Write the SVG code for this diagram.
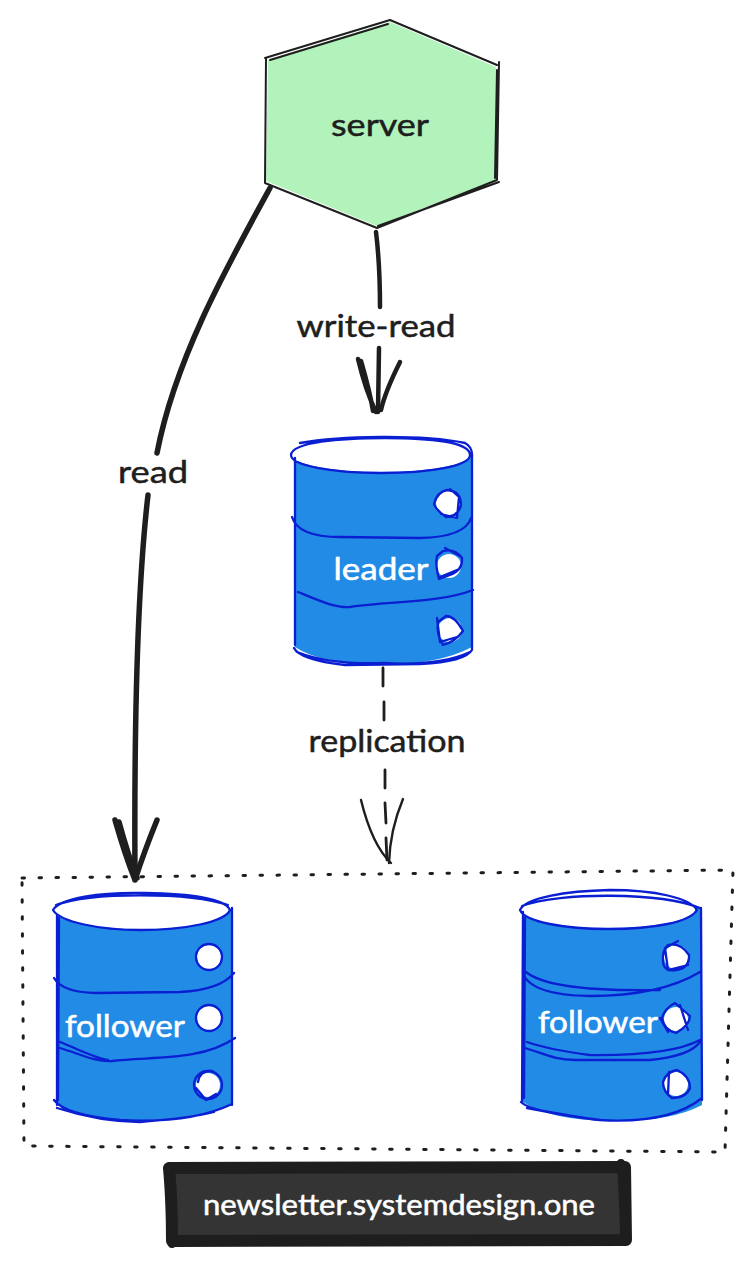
<svg xmlns="http://www.w3.org/2000/svg" width="746" height="1262" viewBox="0 0 746 1262">
<style>
.t{font-family:"Lato","Liberation Sans",sans-serif;fill:#1e1e1e;stroke:#1e1e1e;stroke-width:.5px;font-size:30px}
.w{fill:#fff;stroke:#fff}
.b{fill:#228be6;stroke:none}
.s{fill:none;stroke:#0a1ed2;stroke-width:2.3;stroke-linecap:round;stroke-linejoin:round}
.h{fill:#fff;stroke:none}
.k{fill:none;stroke:#1e1e1e;stroke-linecap:round;stroke-linejoin:round}
.c5{stroke-width:5.5}.c4{stroke-width:4.5}.c3{stroke-width:2.8}.c2{stroke-width:2}
</style>
<rect width="746" height="1262" fill="#fff"/>
<g id="connectors">
<path class="k c5" d="M270 188C225 270 175 360 157 453"/>
<path class="k c5" d="M148 495C137 590 134 720 135 878"/>
<path class="k c5" d="M115 820Q125 855 135 880M157 820Q144 852 135 880M119 822Q128 855 137 878"/>
<path class="k c4" d="M376 232Q380 265 380 307M379 348L378 412"/>
<path class="k c4" d="M358 359Q366 392 376 412M400 362Q385 392 381 410M361 361Q370 392 373 411"/>
<path class="k c3" d="M383 668L383 686M384 702L384 720M385 770L385 788M385 803L386 823M386 838L387 860"/>
<path class="k" d="M361 800Q372 845 391 863M403 799Q390 830 389 863" style="stroke-width:2.4"/>
<path class="k" style="stroke-width:3" stroke-dasharray="2.5 14.5" d="M22 878L733 870L725 1152L24 1146Z"/>
</g>
<g id="server">
<path d="M268 60L390 22L496 67L496 180L377 226L266 181Z" fill="#b2f2bb"/>
<path class="k c2" d="M265 58L390 20L497 65M499 62L497 180L377 228L265 183L266 58M270 60L388 24M378 226L499 182M497 70L495 178"/>
<text class="t" x="380" y="136" text-anchor="middle" textLength="98" lengthAdjust="spacingAndGlyphs">server</text>
</g>
<g id="leader">
<path class="b" d="M295 455L472 455L472 647Q440 664 384 665Q320 664 295 647Z"/>
<ellipse class="h" cx="381" cy="455" rx="89" ry="17"/>
<path class="s" d="M291 455C292 442 340 438 385 438C430 438 470 442 470 455C470 466 430 473 381 473C335 473 291 466 291 455ZM300 443C340 436 420 434 465 443Q473 447 472 458M295 458L295 645M472 455L472 650M292 517Q298 537 340 537L420 538Q465 537 471 518M298 592C320 601 335 608 350 607C390 601 440 603 473 590M294 648Q300 660 345 665L420 664Q465 662 472 650M297 652Q330 665 384 663Q440 666 470 652"/>
<circle class="h" cx="448" cy="503" r="12"/><circle class="h" cx="449" cy="566" r="12"/><circle class="h" cx="450" cy="630" r="12"/>
<path class="s" d="M447 490Q461 491 461 505Q458 517 446 517Q436 510 434 504Q437 492 447 490ZM450 489L459 497L457 518L441 514"/>
<path class="s" d="M443 551Q455 548 462 558Q463 570 450 575L439 579Q435 565 437 556ZM445 548L460 556M440 577L457 570"/>
<path class="s" d="M446 616Q455 616 463 631Q455 642 443 645Q436 635 438 622ZM437 618L440 642L457 637"/>
<text class="t w" x="381" y="580" text-anchor="middle" textLength="95" lengthAdjust="spacingAndGlyphs">leader</text>
</g>
<g id="follower-left">
<path class="b" d="M57 910L232 910L232 1105Q195 1121 140 1120Q85 1120 57 1105Z"/>
<ellipse class="h" cx="142" cy="911" rx="87" ry="18"/>
<path class="s" d="M53 910C60 898 100 892 145 893C190 894 225 898 230 910C225 922 185 930 140 930C100 930 60 922 53 910ZM56 905C90 892 190 892 228 905M57 915L57 1105M59 918L58 1100M232 908L232 1105M54 978Q62 992 95 993L180 992Q220 990 234 973M60 1048C80 1054 95 1062 112 1061C150 1056 200 1062 235 1038M60 1042C80 1050 95 1058 108 1060M54 1100Q65 1115 120 1120Q190 1124 232 1104M57 1108Q100 1122 140 1122Q190 1118 214 1112"/>
<circle class="h" cx="209" cy="957" r="12"/><circle class="h" cx="209" cy="1018" r="12"/><circle class="h" cx="208" cy="1085" r="12"/>
<circle class="s" cx="209" cy="957" r="13"/><circle class="s" cx="209" cy="1018" r="13"/><circle class="s" cx="208" cy="1085" r="14"/>
<path class="s" d="M198 1082Q200 1070 212 1071M196 1088L206 1100L216 1094"/>
<text class="t w" x="125" y="1037" text-anchor="middle" textLength="120" lengthAdjust="spacingAndGlyphs">follower</text>
</g>
<g id="follower-right">
<path class="b" d="M523 908L701 908L702 1105Q670 1122 610 1121Q550 1120 523 1102Z"/>
<ellipse class="h" cx="608" cy="910" rx="87" ry="18"/>
<path class="s" d="M520 910C525 898 565 891 610 890C655 890 690 898 697 910C690 922 655 929 608 929C565 929 525 922 520 910ZM522 906C560 892 660 892 700 908M523 912L522 1102M525 918L524 1098M701 908L702 1100M523 973Q530 995 590 996Q660 996 700 972M526 972Q550 992 660 990M525 1048C545 1054 555 1060 575 1060L650 1060Q690 1056 700 1042M527 1042Q550 1050 590 1055Q670 1056 700 1040M521 1102Q530 1112 600 1120Q670 1124 702 1098M527 1108Q580 1118 600 1120"/>
<circle class="h" cx="676" cy="957" r="12"/><circle class="h" cx="676" cy="1019" r="12"/><circle class="h" cx="676" cy="1084" r="12"/>
<path class="s" d="M668 945Q680 942 689 955Q690 968 676 970Q664 972 663 962Q662 950 668 945ZM678 941L665 948L668 970L688 965"/>
<path class="s" d="M675 1003L690 1016Q690 1025 676 1033Q664 1030 662 1018Q665 1008 675 1003ZM668 1032L660 1018M680 1005L688 1030"/>
<path class="s" d="M677 1070Q690 1076 690 1088Q686 1098 672 1098Q663 1092 663 1082Q666 1072 677 1070ZM669 1072L668 1095"/>
<text class="t w" x="598" y="1033" text-anchor="middle" textLength="120" lengthAdjust="spacingAndGlyphs">follower</text>
</g>
<g id="badge">
<path d="M169 1168L625 1167L626 1240L172 1241Q172 1200 169 1168Z" fill="#343434" stroke="#1e1e1e" stroke-width="12" stroke-linejoin="round"/>
<path d="M621 1163L625 1240M168 1170L172 1244" fill="none" stroke="#1e1e1e" stroke-width="8" stroke-linecap="round"/>
<text class="t w" x="399" y="1215" text-anchor="middle" textLength="392" lengthAdjust="spacingAndGlyphs" style="font-size:28px">newsletter.systemdesign.one</text>
</g>
<g id="labels">
<text class="t" x="376" y="337" text-anchor="middle" textLength="159" lengthAdjust="spacingAndGlyphs">write-read</text>
<text class="t" x="153" y="483" text-anchor="middle" textLength="70" lengthAdjust="spacingAndGlyphs">read</text>
<text class="t" x="387" y="752" text-anchor="middle" textLength="157" lengthAdjust="spacingAndGlyphs">replication</text>
</g>
</svg>
